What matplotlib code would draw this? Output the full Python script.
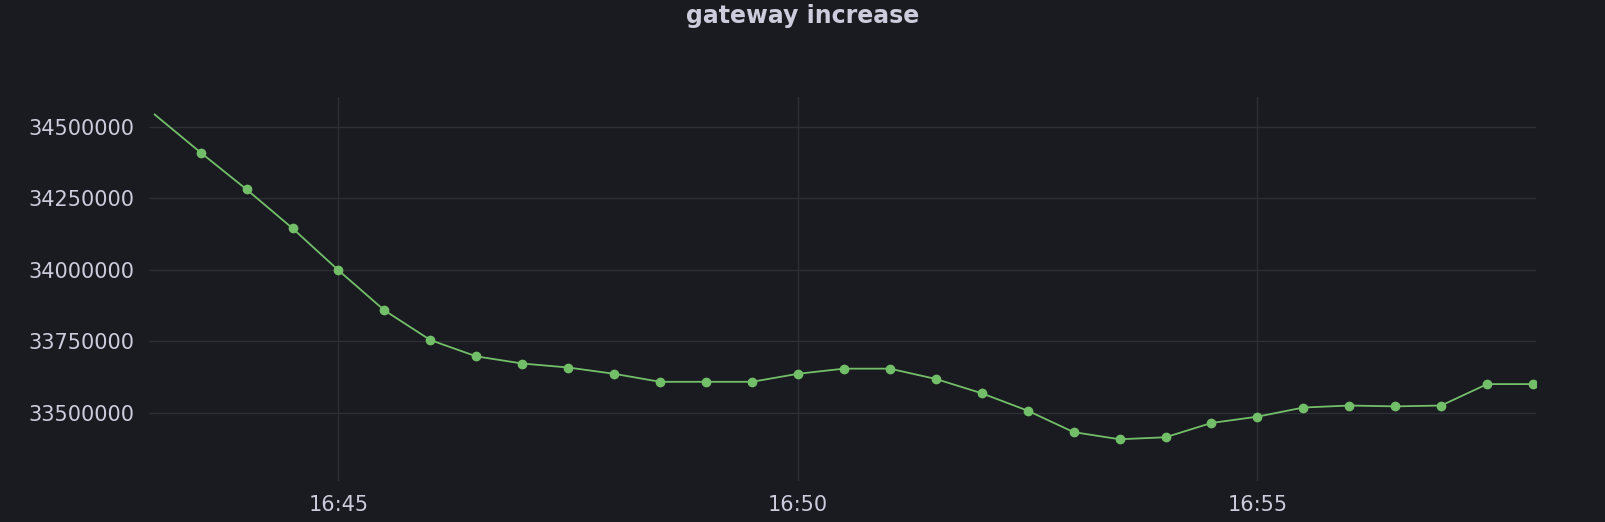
import matplotlib.pyplot as plt
import matplotlib.dates as mdates
import pandas as pd

times = ["16:43:00", "16:43:30", "16:44:00", "16:44:30", "16:45:00", "16:45:30",
         "16:46:00", "16:46:30", "16:47:00", "16:47:30", "16:48:00", "16:48:30",
         "16:49:00", "16:49:30", "16:50:00", "16:50:30", "16:51:00", "16:51:30",
         "16:52:00", "16:52:30", "16:53:00", "16:53:30", "16:54:00", "16:54:30",
         "16:55:00", "16:55:30", "16:56:00", "16:56:30", "16:57:00", "16:57:30",
         "16:58:00"]
values = [34543000, 34410000, 34281000, 34145000, 33998000, 33858000,
          33754000, 33697000, 33672000, 33658000, 33636000, 33608000,
          33608000, 33608000, 33636000, 33654000, 33654000, 33618000,
          33568000, 33507000, 33432000, 33407000, 33414000, 33464000,
          33486000, 33518000, 33525000, 33522000, 33525000, 33600000,
          33600000]
yticks = [33500000, 33750000, 34000000, 34250000, 34500000]

t = pd.to_datetime(["2024-01-01 " + s for s in times])

bg = "#1a1b20"
fg = "#ccccdc"
green = "#73bf69"

fig = plt.figure(figsize=(16.06, 5.22), dpi=100, facecolor=bg)
ax = fig.add_axes([0.0925, 0.078, 0.864, 0.736], facecolor=bg)

ax.plot(t, values, color=green, lw=1.3, marker="o", ms=6,
        markevery=range(1, len(values)))

ax.set_yticks(yticks)
ax.set_yticklabels([str(v) for v in yticks])
ax.set_ylim(33260000, 34604000)
ax.set_xlim(pd.Timestamp("2024-01-01 16:42:56"), pd.Timestamp("2024-01-01 16:58:02"))
ax.xaxis.set_major_locator(mdates.MinuteLocator(byminute=range(0, 60, 5)))
ax.xaxis.set_major_formatter(mdates.DateFormatter("%H:%M"))

ax.grid(True, color="#2c2f35", lw=1)
for s in ax.spines.values():
    s.set_visible(False)
ax.tick_params(colors=fg, labelsize=15, length=0, pad=10)

fig.text(0.5, 0.97, "gateway increase", color=fg, fontsize=17,
         fontweight="semibold", ha="center", va="center")

fig.savefig("out.png", facecolor=bg)
